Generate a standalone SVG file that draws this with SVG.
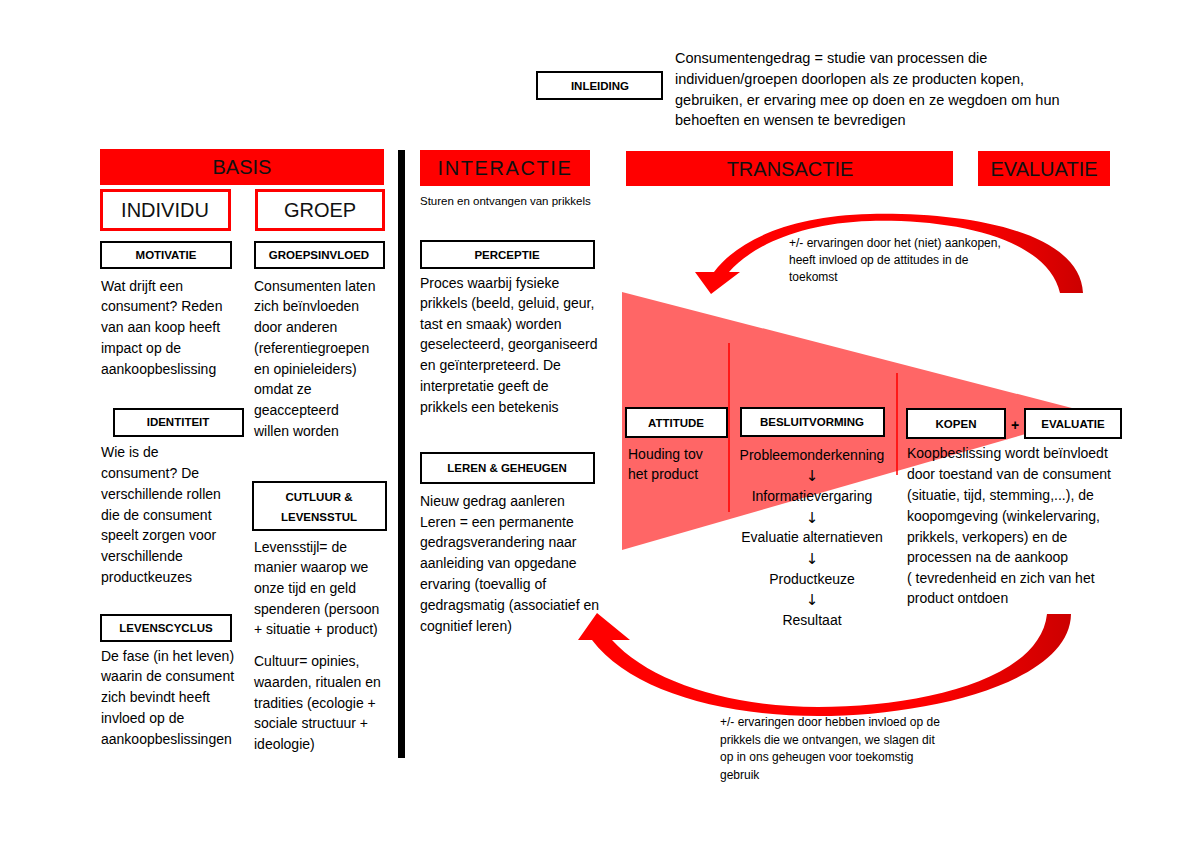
<svg xmlns="http://www.w3.org/2000/svg" width="1200" height="848" viewBox="0 0 1200 848">
<defs>
<style>
text{font-family:"Liberation Sans",Arial,sans-serif;fill:#000}
.hdr{fill:#ff0000}
.ht{font-size:20px;text-anchor:middle;fill:#111}
.rbox{fill:#fff;stroke:#ff0000;stroke-width:3}
.box{fill:#fff;stroke:#000;stroke-width:2}
.bl{font-size:11.5px;font-weight:bold;text-anchor:middle}
.body{font-size:14px}
.intro{font-size:14.5px}
.small{font-size:11.5px}
.note{font-size:12px}
.mid{text-anchor:middle}
.arr{font-family:"DejaVu Sans",sans-serif;font-size:15px;text-anchor:middle}
.div{stroke:#ff0000;stroke-width:1.5}
</style>
<linearGradient id="ga" x1="0" y1="0" x2="1" y2="0">
<stop offset="0" stop-color="#ff0000"/>
<stop offset="0.7" stop-color="#ff0000"/>
<stop offset="1" stop-color="#cc0000"/>
</linearGradient>
</defs>
<rect width="1200" height="848" fill="#fff"/>

<g id="inleiding">
<rect class="box" x="537" y="72" width="125" height="27"/>
<text class="bl" x="600" y="90">INLEIDING</text>
<text class="intro" x="675" y="63">Consumentengedrag = studie van processen die</text>
<text class="intro" x="675" y="84">individuen/groepen doorlopen als ze producten kopen,</text>
<text class="intro" x="675" y="105">gebruiken, er ervaring mee op doen en ze wegdoen om hun</text>
<text class="intro" x="675" y="125">behoeften en wensen te bevredigen</text>
</g>

<g id="basis">
<rect class="hdr" x="100" y="149" width="284" height="36"/>
<text class="ht" x="242" y="174">BASIS</text>
</g>
<g id="individu">
<rect class="rbox" x="101.5" y="190.5" width="128" height="39"/>
<text class="ht" x="165" y="217">INDIVIDU</text>
</g>
<g id="groep">
<rect class="rbox" x="256.5" y="190.5" width="127" height="39"/>
<text class="ht" x="320" y="217">GROEP</text>
</g>

<g id="motivatie">
<rect class="box" x="101" y="242" width="130" height="26"/>
<text class="bl" x="166" y="259">MOTIVATIE</text>
<text class="body" x="101" y="291">Wat drijft een</text>
<text class="body" x="101" y="311">consument? Reden</text>
<text class="body" x="101" y="332">van aan koop heeft</text>
<text class="body" x="101" y="353">impact op de</text>
<text class="body" x="101" y="374">aankoopbeslissing</text>
</g>

<g id="identiteit">
<rect class="box" x="114" y="409" width="129" height="27"/>
<text class="bl" x="178" y="426">IDENTITEIT</text>
<text class="body" x="101" y="457">Wie is de</text>
<text class="body" x="101" y="478">consument? De</text>
<text class="body" x="101" y="499">verschillende rollen</text>
<text class="body" x="101" y="520">die de consument</text>
<text class="body" x="101" y="540">speelt zorgen voor</text>
<text class="body" x="101" y="561">verschillende</text>
<text class="body" x="101" y="582">productkeuzes</text>
</g>

<g id="levenscyclus">
<rect class="box" x="101" y="615" width="130" height="26"/>
<text class="bl" x="166" y="632">LEVENSCYCLUS</text>
<text class="body" x="101" y="661">De fase (in het leven)</text>
<text class="body" x="101" y="681">waarin de consument</text>
<text class="body" x="101" y="702">zich bevindt heeft</text>
<text class="body" x="101" y="723">invloed op de</text>
<text class="body" x="101" y="744">aankoopbeslissingen</text>
</g>

<g id="groepsinvloed">
<rect class="box" x="255" y="242" width="129" height="26"/>
<text class="bl" x="319" y="259">GROEPSINVLOED</text>
<text class="body" x="254" y="291">Consumenten laten</text>
<text class="body" x="254" y="311">zich beïnvloeden</text>
<text class="body" x="254" y="332">door anderen</text>
<text class="body" x="254" y="353">(referentiegroepen</text>
<text class="body" x="254" y="374">en opinieleiders)</text>
<text class="body" x="254" y="394">omdat ze</text>
<text class="body" x="254" y="415">geaccepteerd</text>
<text class="body" x="254" y="436">willen worden</text>
</g>

<g id="cultuur">
<rect class="box" x="253" y="482" width="133" height="48"/>
<text class="bl" x="319" y="501">CUTLUUR &amp;</text>
<text class="bl" x="319" y="521">LEVENSSTUL</text>
<text class="body" x="254" y="552">Levensstijl= de</text>
<text class="body" x="254" y="572">manier  waarop we</text>
<text class="body" x="254" y="593">onze tijd en geld</text>
<text class="body" x="254" y="614">spenderen (persoon</text>
<text class="body" x="254" y="634">+ situatie + product)</text>
<text class="body" x="254" y="666">Cultuur= opinies,</text>
<text class="body" x="254" y="687">waarden, ritualen en</text>
<text class="body" x="254" y="708">tradities (ecologie +</text>
<text class="body" x="254" y="728">sociale structuur +</text>
<text class="body" x="254" y="749">ideologie)</text>
</g>

<g id="scheiding">
<rect x="398" y="150" width="7" height="608" fill="#000"/>
</g>

<g id="interactie">
<rect class="hdr" x="420" y="150" width="170" height="36"/>
<text class="ht" x="505" y="175" letter-spacing="1.6">INTERACTIE</text>
<text class="small" x="420" y="205">Sturen en ontvangen van prikkels</text>
</g>

<g id="perceptie">
<rect class="box" x="421" y="241" width="173" height="27"/>
<text class="bl" x="507" y="259">PERCEPTIE</text>
<text class="body" x="420" y="288">Proces waarbij fysieke</text>
<text class="body" x="420" y="308">prikkels (beeld, geluid, geur,</text>
<text class="body" x="420" y="329">tast en smaak) worden</text>
<text class="body" x="420" y="349">geselecteerd, georganiseerd</text>
<text class="body" x="420" y="370">en geïnterpreteerd. De</text>
<text class="body" x="420" y="391">interpretatie geeft de</text>
<text class="body" x="420" y="412">prikkels een betekenis</text>
</g>

<g id="leren">
<rect class="box" x="421" y="453" width="173" height="30"/>
<text class="bl" x="507" y="472">LEREN &amp; GEHEUGEN</text>
<text class="body" x="420" y="506">Nieuw gedrag aanleren</text>
<text class="body" x="420" y="527">Leren = een permanente</text>
<text class="body" x="420" y="547">gedragsverandering naar</text>
<text class="body" x="420" y="568">aanleiding van opgedane</text>
<text class="body" x="420" y="589">ervaring (toevallig of</text>
<text class="body" x="420" y="610">gedragsmatig (associatief en</text>
<text class="body" x="420" y="631">cognitief leren)</text>
</g>

<g id="transactie">
<rect class="hdr" x="626" y="151" width="327" height="35"/>
<text class="ht" x="790" y="176">TRANSACTIE</text>
</g>
<g id="evaluatie-kop">
<rect class="hdr" x="978" y="151" width="132" height="35"/>
<text class="ht" x="1044" y="176">EVALUATIE</text>
</g>

<g id="trechter">
<polygon points="622,292 1095,414 622,550" fill="#ff6666"/>
<line class="div" x1="729" y1="343" x2="729" y2="512"/>
<line class="div" x1="897" y1="373" x2="897" y2="475"/>
</g>

<g id="attitude">
<rect class="box" x="626" y="408" width="101" height="29"/>
<text class="bl" x="676" y="427">ATTITUDE</text>
<text class="body" x="628" y="459">Houding tov</text>
<text class="body" x="628" y="479">het product</text>
</g>

<g id="besluitvorming">
<rect class="box" x="741" y="408" width="143" height="28"/>
<text class="bl" x="812" y="426">BESLUITVORMING</text>
<text class="body mid" x="812" y="460">Probleemonderkenning</text>
<text class="arr" x="812" y="481">↓</text>
<text class="body mid" x="812" y="501">Informatievergaring</text>
<text class="arr" x="812" y="523">↓</text>
<text class="body mid" x="812" y="542">Evaluatie alternatieven</text>
<text class="arr" x="812" y="564">↓</text>
<text class="body mid" x="812" y="584">Productkeuze</text>
<text class="arr" x="812" y="605">↓</text>
<text class="body mid" x="812" y="625">Resultaat</text>
</g>

<g id="kopen-evaluatie">
<rect class="box" x="907" y="409" width="98" height="29"/>
<text class="bl" x="956" y="428">KOPEN</text>
<text x="1015" y="430" font-size="14" font-weight="bold" text-anchor="middle">+</text>
<rect class="box" x="1025" y="409" width="96" height="29"/>
<text class="bl" x="1073" y="428">EVALUATIE</text>
<text class="body" x="907" y="458">Koopbeslissing wordt beïnvloedt</text>
<text class="body" x="907" y="479">door toestand van de consument</text>
<text class="body" x="907" y="500">(situatie, tijd, stemming,...), de</text>
<text class="body" x="907" y="521">koopomgeving (winkelervaring,</text>
<text class="body" x="907" y="542">prikkels, verkopers) en de</text>
<text class="body" x="907" y="562">processen na de aankoop</text>
<text class="body" x="907" y="583">( tevredenheid en zich van het</text>
<text class="body" x="907" y="603">product ontdoen</text>
</g>

<g id="connectors">
<path d="M1083,293 C1080,232 970,212 870,214 C790,216 738,240 714,272 L695,272 L711,294 L740,272 L729,272 C752,246 800,223 870,221 C960,219 1048,240 1060,293 Z" fill="url(#ga)"/>
<path d="M1071,614 C1070,682 930,716 818,716 C720,716 630,690 592,640 L578,640 L597,613 L630,640 L612,640 C650,682 730,707 818,707 C920,707 1040,680 1047,614 Z" fill="url(#ga)"/>
</g>

<g id="notitie-boven">
<text class="note" x="789" y="247">+/- ervaringen door het (niet) aankopen,</text>
<text class="note" x="789" y="264">heeft invloed op de attitudes in de</text>
<text class="note" x="789" y="281">toekomst</text>
</g>
<g id="notitie-onder">
<text class="note" x="720" y="726">+/- ervaringen door hebben invloed op de</text>
<text class="note" x="720" y="744">prikkels die we ontvangen, we slagen dit</text>
<text class="note" x="720" y="761">op in ons geheugen voor toekomstig</text>
<text class="note" x="720" y="779">gebruik</text>
</g>
</svg>
